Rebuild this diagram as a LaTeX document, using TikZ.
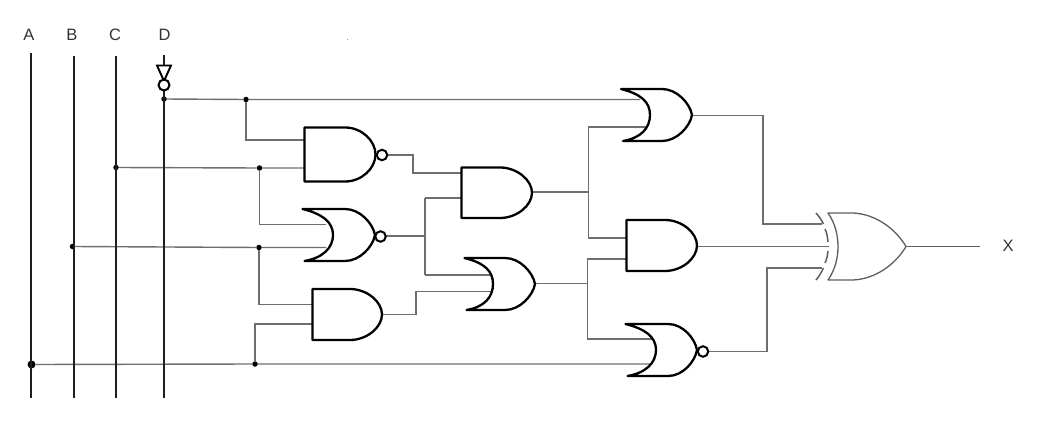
\documentclass[tikz,border=0pt]{standalone}
\usepackage{fontspec}
\setmainfont{Liberation Sans}
\definecolor{wirecol}{HTML}{6E6E6E}
\definecolor{railcol}{HTML}{1E1E1E}
\definecolor{xorcol}{HTML}{5E5E5E}
\definecolor{lblcol}{HTML}{333333}
\tikzset{
  wire/.style={draw=wirecol,line width=1.4pt,line join=miter},
  rail/.style={draw=railcol,line width=2.3pt},
  gate/.style={draw=black,line width=2.3pt,line join=round,fill=white},
  xorgate/.style={draw=xorcol,line width=1.3pt,line join=round},
  joint/.style={circle,fill=black,inner sep=0pt,minimum size=5.5pt},
  bubble/.style={circle,draw=black,line width=2pt,fill=white,inner sep=0pt,minimum size=10.5pt},
  lbl/.style={text=lblcol,font=\fontsize{16.5}{19}\selectfont,inner sep=0pt}
}
% #2 left, #3 top, #4 bottom, #5 end of flat edge, #6 tip
\newcommand{\andshape}[6][gate]{%
  \draw[#1] (#2,#3) -- (#5,#3)
    .. controls (#5+17,#3) and (#6,#3*0.75+#4*0.25) .. (#6,#3*0.5+#4*0.5)
    .. controls (#6,#3*0.25+#4*0.75) and (#5+17,#4) .. (#5,#4)
    -- (#2,#4) -- cycle;}
% #2 horn x, #3 top, #4 bottom, #5 notch x, #6 end of flat edge, #7 tip
\newcommand{\orshape}[7][gate]{%
  \draw[#1] (#2,#3) -- (#6,#3)
    .. controls (#6+15,#3) and (#7-2,#3*0.72+#4*0.28) .. (#7,#3*0.5+#4*0.5)
    .. controls (#7-2,#3*0.28+#4*0.72) and (#6+15,#4) .. (#6,#4)
    -- (#2+2,#4)
    .. controls (#2+20,#4-3) and (#5,#4-13) .. (#5,#3*0.5+#4*0.5)
    .. controls (#5,#3+13) and (#2+20,#3+5) .. (#2,#3) -- cycle;}
\begin{document}
\begin{tikzpicture}[x=1pt,y=-1pt]
\useasboundingbox (0,0) rectangle (1048,438);

% labels
\node[lbl] (la) at (29,35) {A};
\node[lbl] (lb) at (72,35) {B};
\node[lbl] (lc) at (115,35) {C};
\node[lbl] (ld) at (164.5,35) {D};
\node[lbl] (lx) at (1008,246) {X};
\fill[black!50] (347.5,39.5) circle (0.5);

% rail ends
\coordinate (atop) at (31,53);   \coordinate (abot) at (31,398);
\coordinate (btop) at (74,56);   \coordinate (bbot) at (74,398);
\coordinate (ctop) at (116,56);  \coordinate (cbot) at (116,398);
\coordinate (dtop) at (164,55);  \coordinate (dbot) at (164,398);
\coordinate (xout) at (980,246.5);

% wire junctions
\node[joint] (jd)  at (164,99) {};
\node[joint] (jd2) at (246,99.5) {};
\node[joint] (jc)  at (116,167.5) {};
\node[joint] (jc2) at (259.5,168) {};
\node[joint] (jb)  at (72.5,246.5) {};
\node[joint] (jb2) at (259,247.5) {};
\node[joint,minimum width=8pt,minimum height=5.5pt] (ja) at (31.5,364.5) {};
\node[joint] (ja2) at (255,364) {};

% wires
\draw[wire] (jd) -- (jd2) -- (640,99.5);
\draw[wire] (jd2) |- (306,140);
\draw[wire] (jc) -- (jc2) -- (306,168);
\draw[wire] (jc2) |- (326,224.5);
\draw[wire] (jb) -- (jb2) -- (326,247.5);
\draw[wire] (jb2) |- (314,304.5);
\draw[wire] (ja) -- (ja2) -- (650,364);
\draw[wire] (ja2) |- (314,324);

\coordinate (n1o) at (388,155);
\draw[wire] (n1o) -- (413,155) |- (463,173);
\coordinate (n2o) at (386,236);
\draw[wire] (n2o) -- (425,236);
\draw[wire] (425,198) -- (425,275);
\draw[wire] (425,198) -- (463,198);
\draw[wire] (425,275) -- (492,275);
\draw[wire] (382,314.5) -- (416,314.5) |- (492,291.5);

\draw[wire] (532,192) -- (588.5,192);
\draw[wire] (648,127) -- (588.5,127) |- (628,238);
\draw[wire] (535,283.5) -- (587.5,283.5);
\draw[wire] (628,259) -- (587.5,259) |- (654,339);

% outputs to the XOR gate
\draw[wire] (692,115.5) -- (763,115.5) |- (822,224);
\draw[wire] (697,246.5) -- (829,246.5);
\draw[wire] (707,351.5) -- (767,351.5) |- (822,268);

% rails
\draw[rail] (atop) -- (abot);
\draw[rail] (btop) -- (bbot);
\draw[rail] (ctop) -- (cbot);
\draw[rail] (dtop) -- (164,66);
\draw[rail] (164,90) -- (dbot);

% inverter on D
\draw[draw=black,line width=1.9pt,line join=miter,fill=white] (157,65.5) -- (171,65.5) -- (164,81) -- cycle;
\node[bubble,minimum size=11pt] (bd) at (164,85) {};

% gates
\andshape{304.5}{127.5}{181.5}{345}{375.5}
\node[bubble] (bn1) at (382,155) {};
\orshape{302.5}{209}{261}{333}{345}{375}
\node[bubble] (bn2) at (380.5,236.5) {};
\andshape{312.5}{289}{340}{350}{382}
\andshape{461.5}{167.5}{218}{500}{532}
\orshape{464.5}{258}{310}{493}{505}{535}
\orshape{621}{89}{141}{650}{662}{692}
\andshape{626.5}{220}{271}{665}{697}
\orshape{625.5}{324}{376}{656}{668}{697}
\node[bubble] (bn3) at (703,351.5) {};

% XOR gate
\draw[xorgate] (828,213) -- (853,213)
  .. controls (875,214) and (895,228) .. (906,246.5)
  .. controls (895,265) and (875,279) .. (853,280) -- (828,280)
  .. controls (835,270) and (838,258) .. (838,246.5)
  .. controls (838,235) and (835,223) .. (828,213) -- cycle;
\draw[xorgate,line width=1.5pt] (816,213) .. controls (819.5,217) and (821.5,220) .. (823.5,224);
\draw[xorgate,line width=1.5pt] (825,229) .. controls (826.5,232) and (827.5,236) .. (828,242);
\draw[xorgate,line width=1.5pt] (828,251) .. controls (827.5,256) and (826.5,260) .. (825,263);
\draw[xorgate,line width=1.5pt] (823.5,268) .. controls (821.5,272) and (819.5,276) .. (816,280);
\draw[xorgate] (906,246.5) -- (xout);
\end{tikzpicture}
\end{document}
